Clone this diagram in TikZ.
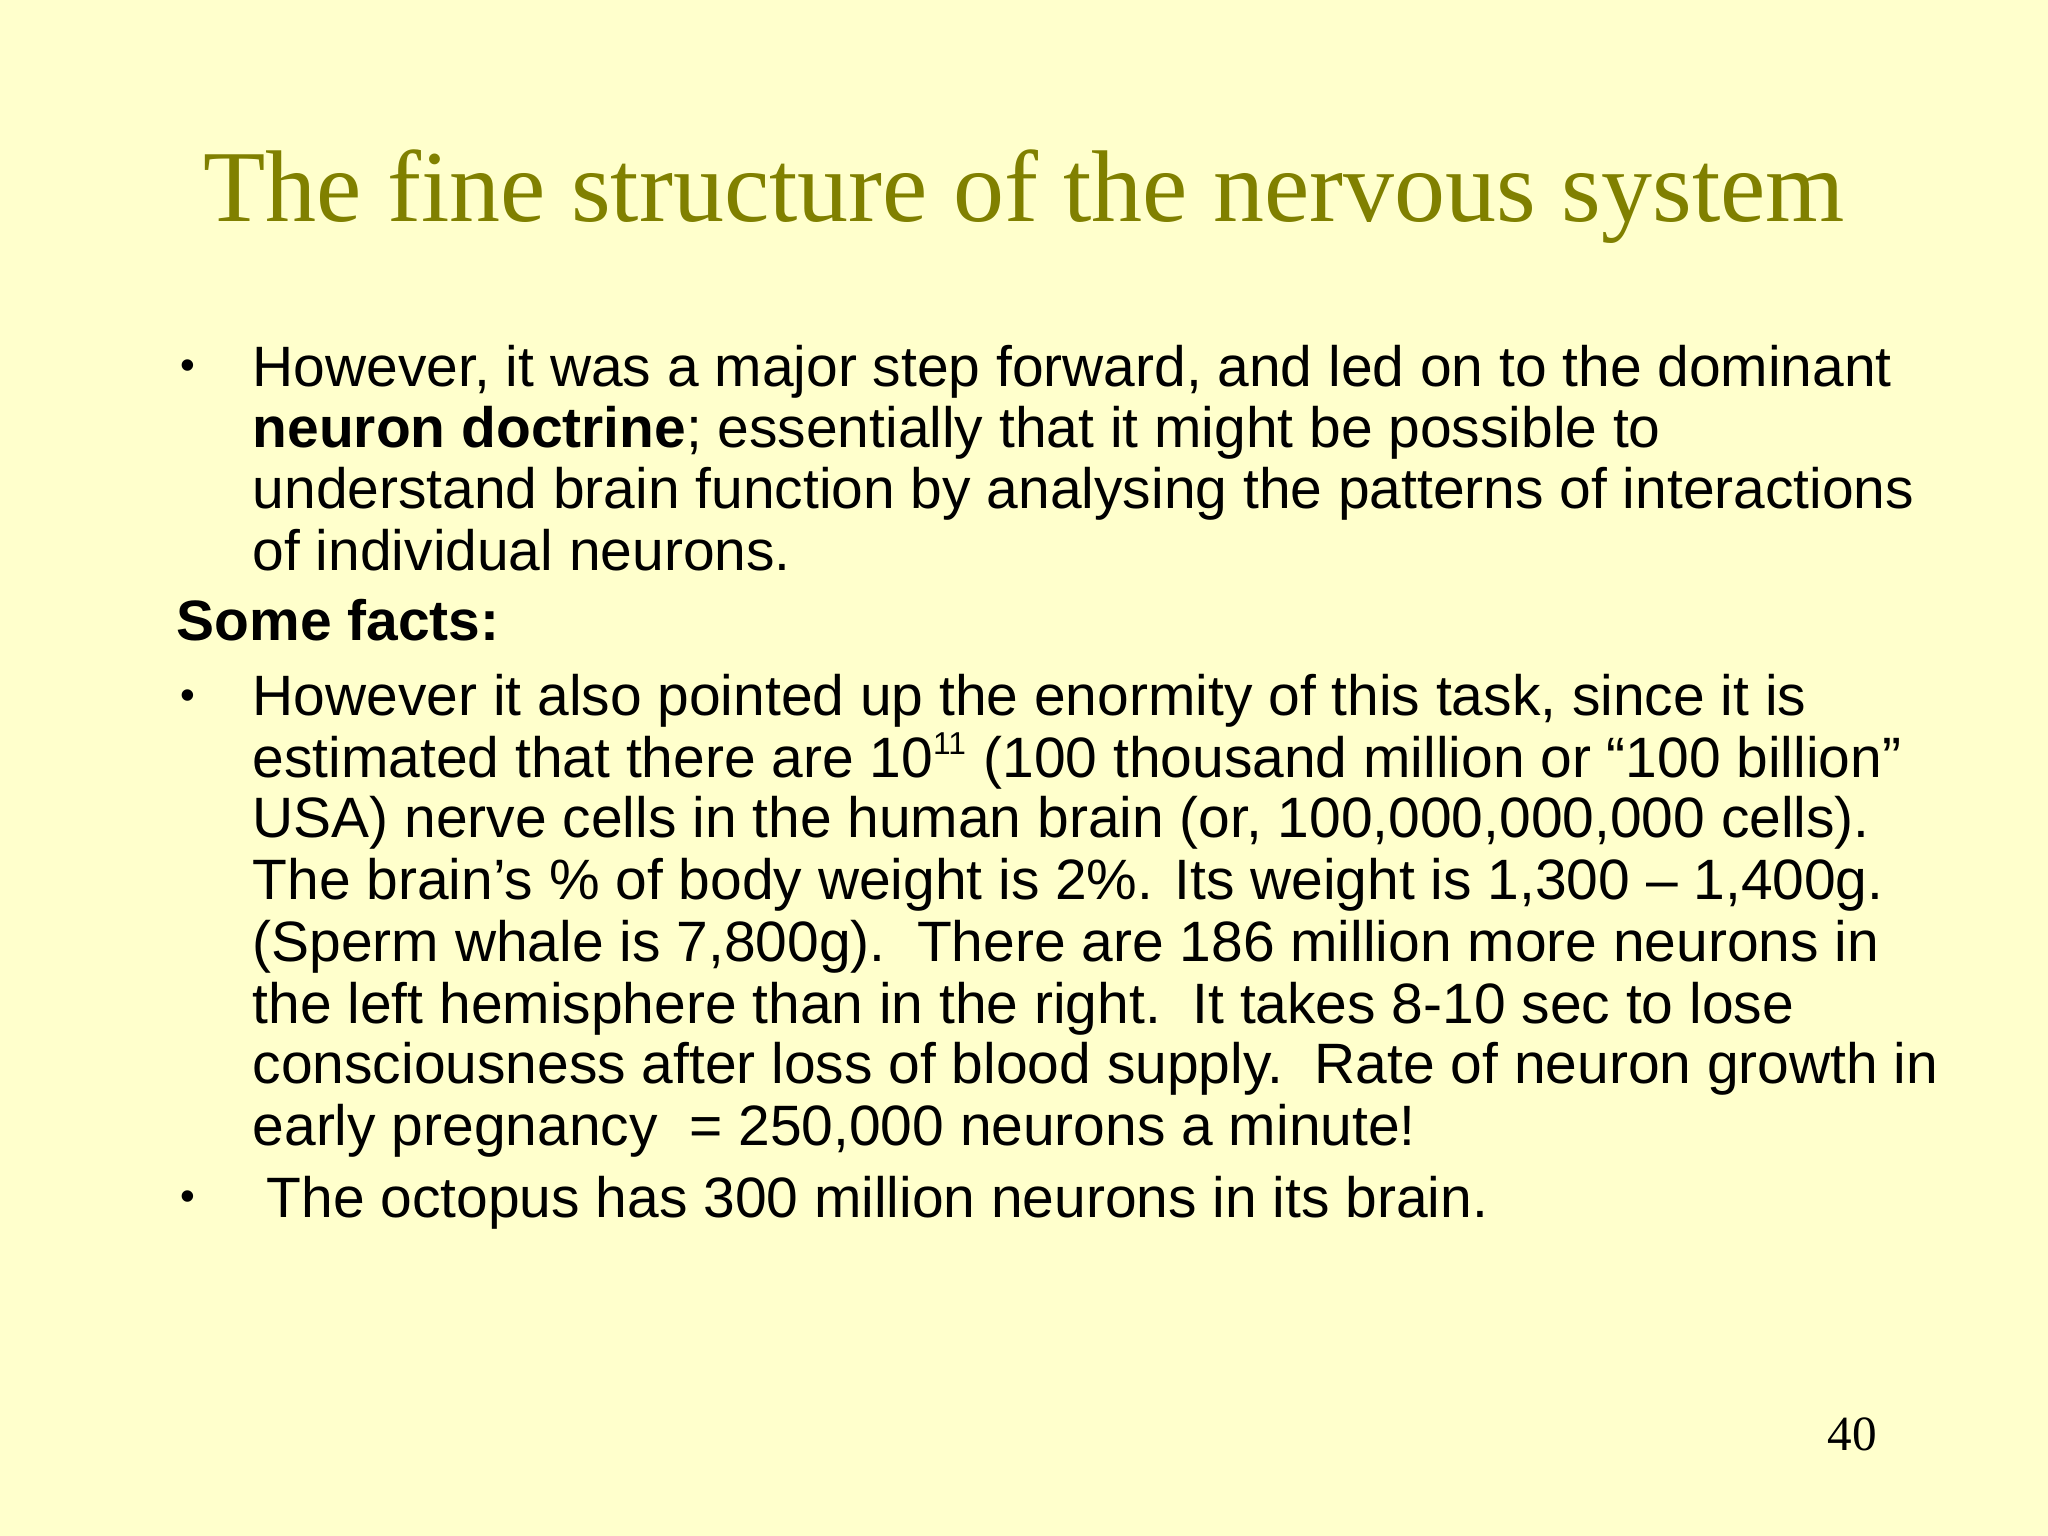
\documentclass[tikz,border=0pt]{standalone}
\usepackage{fontspec}
\setmainfont{Liberation Sans}
\newfontfamily\serifx{Liberation Serif}
\definecolor{bgy}{RGB}{255,255,204}
\definecolor{olivet}{RGB}{128,128,0}
\begin{document}
\begin{tikzpicture}[x=1cm,y=1cm,
  ln/.style={anchor=base west,inner sep=0pt,font=\fontsize{16.2}{18}\selectfont},
  bul/.style={anchor=base west,inner sep=0pt,font=\fontsize{12}{12}\selectfont}]
\fill[bgy] (0,0) rectangle (20.48,-15.36);
\useasboundingbox (0,0) rectangle (20.48,-15.36);
\node[anchor=base,inner sep=0pt,text=olivet,font=\serifx\fontsize{29}{31}\selectfont] (title) at (10.24,-2.22) {The fine structure of the nervous system};
\node[bul] (b1) at (1.80,-3.80) {•};
\node[ln] (l1) at (2.52,-3.87) {However, it was a major step forward, and led on to the dominant};
\node[ln] (l2) at (2.52,-4.48) {\textbf{neuron doctrine}; essentially that it might be possible to};
\node[ln] (l3) at (2.52,-5.09) {understand brain function by analysing the patterns of interactions};
\node[ln] (l4) at (2.52,-5.71) {of individual neurons.};
\node[ln] (sf) at (1.76,-6.41) {\textbf{Some facts:}};
\node[bul] (b2) at (1.80,-7.09) {•};
\node[ln] (m1) at (2.52,-7.16) {However it also pointed up the enormity of this task, since it is};
\node[ln] (m2) at (2.52,-7.77) {estimated that there are 10\textsuperscript{\fontsize{9}{9}\selectfont 11} (100 thousand million or “100 billion”};
\node[ln] (m3) at (2.52,-8.38) {USA) nerve cells in the human brain (or, 100,000,000,000 cells).};
\node[ln] (m4) at (2.52,-9.00) {The brain’s \% of body weight is 2\%. Its weight is 1,300 – 1,400g.};
\node[ln] (m5) at (2.52,-9.61) {(Sperm whale is 7,800g).\ \ There are 186 million more neurons in};
\node[ln] (m6) at (2.52,-10.23) {the left hemisphere than in the right.\ \ It takes 8-10 sec to lose};
\node[ln] (m7) at (2.52,-10.84) {consciousness after loss of blood supply.\ \ Rate of neuron growth in};
\node[ln] (m8) at (2.52,-11.45) {early pregnancy\ \ = 250,000 neurons a minute!};
\node[bul] (b3) at (1.80,-12.10) {•};
\node[ln] (o1) at (2.66,-12.17) {The octopus has 300 million neurons in its brain.};
\node[anchor=base,inner sep=0pt,font=\serifx\fontsize{14}{14}\selectfont] (pg) at (18.52,-14.50) {40};
\end{tikzpicture}
\end{document}
